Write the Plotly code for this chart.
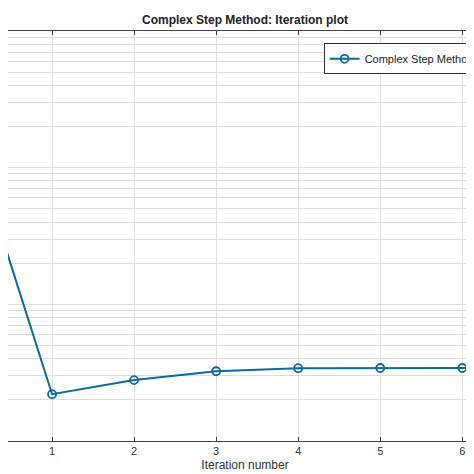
import plotly.graph_objects as go

iterations = [0, 1, 2, 3, 4, 5, 6, 7]
values = [170, 2.2, 2.79, 3.24, 3.41, 3.42, 3.42, 3.42]
x_ticks = [1, 2, 3, 4, 5, 6]

fig = go.Figure(go.Scatter(
    x=iterations, y=values, mode="lines+markers", name="Complex Step Method",
    line=dict(color="#0b6aa0", width=2),
    marker=dict(symbol="circle-open", size=8, color="#0b6aa0", line=dict(width=1.8)),
))
fig.update_layout(
    width=474, height=474, paper_bgcolor="white", plot_bgcolor="white",
    margin=dict(l=0, r=0, t=23, b=41),
    title=dict(text="<b>Complex Step Method: Iteration plot</b>", x=0.5, xanchor="center",
               y=0.985, yanchor="top", font=dict(family="Liberation Sans, Arial", size=12, color="#222")),
    font=dict(family="Liberation Sans, Arial", size=11, color="#333"),
    showlegend=True,
    legend=dict(x=0.995, y=0.97, xanchor="right", yanchor="top", bgcolor="white",
                bordercolor="#333", borderwidth=1, font=dict(size=11, color="#222"),
                itemwidth=30),
)
fig.update_xaxes(range=[0.463, 6.24], tickvals=x_ticks, showgrid=True, gridcolor="#e0e0e0",
                 showline=True, linecolor="#444", mirror="ticks", ticks="inside", ticklen=4,
                 tickcolor="#444", zeroline=False,
                 title=dict(text="Iteration number", font=dict(size=12, color="#333"), standoff=4))
fig.update_yaxes(type="log", range=[0, 3], showticklabels=False, showgrid=True, gridcolor="#dcdcdc",
                 showline=False, zeroline=False,
                 minor=dict(showgrid=True, gridcolor="#d8d8d8", griddash="dot", gridwidth=1, dtick="D1"))
fig.write_html("out.html")
